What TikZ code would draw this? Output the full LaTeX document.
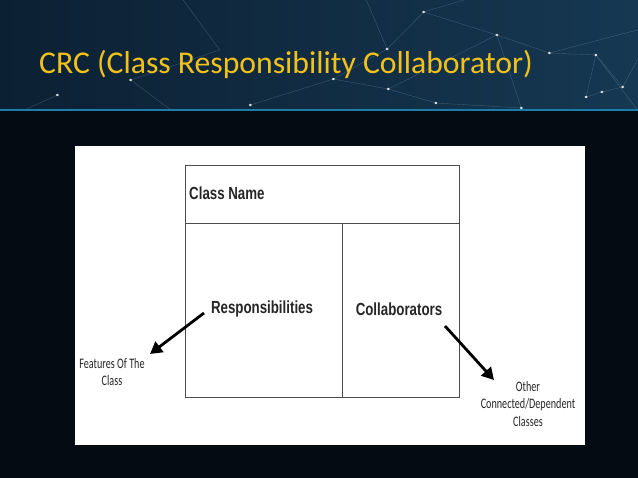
\documentclass[tikz,border=0pt]{standalone}
\usepackage{fontspec}
\setmainfont{Carlito}
\newfontfamily\boxfont[FakeStretch=0.76]{Liberation Sans}
\newfontfamily\notefont[FakeStretch=0.7]{Carlito}
\usetikzlibrary{arrows.meta}

\definecolor{slidebg}{HTML}{040B12}
\definecolor{bandleft}{HTML}{0C2033}
\definecolor{bandright}{HTML}{163852}
\definecolor{bandline}{HTML}{1E7CA8}
\definecolor{titleyellow}{HTML}{F2C21B}
\definecolor{netline}{HTML}{7FA6C4}

\begin{document}
\begin{tikzpicture}[x=1pt, y=-1pt,
        crcline/.style={draw=black!70, line width=1pt},
        boxlabel/.style={font=\boxfont\bfseries\fontsize{17.5}{19}\selectfont, text=black!85, inner sep=0pt},
        notelabel/.style={font=\notefont\fontsize{14.5}{17.8}\selectfont, align=center, text=black!85, inner sep=0pt},
        pointer/.style={line width=2.8pt, -{Triangle[length=12pt, width=13pt]}}]
        \useasboundingbox (0,0) rectangle (638,478);
        \fill[slidebg] (0,0) rectangle (638,478);
        \shade[left color=bandleft, right color=bandright] (0,0) rectangle (638,110);
        \begin{scope}[xscale=1.221]
        \foreach \xa/\ya/\xb/\yb in {347/12/407/35, 407/35/450/53, 317/49/347/12, 317/49/273/79, 273/79/318/89,
                318/89/357/103, 357/103/427/108, 318/89/407/35, 450/53/488/55, 488/55/480/97,
                488/55/510/87, 480/97/493/92, 493/92/510/87, 107/80/140/110, 47/95/20/110,
                205/105/273/79, 407/35/427/108, 317/49/300/0, 347/12/380/0, 510/87/522/60,
                450/53/522/30, 488/55/522/110, 150/0/180/50, 180/50/107/80} {
            \draw[netline, opacity=0.35, line width=0.4pt] (\xa,\ya) -- (\xb,\yb);
        }
        \foreach \px/\py in {347/12, 407/35, 317/49, 273/79, 318/89, 450/53, 488/55, 480/97,
                493/92, 510/87, 47/95, 107/80, 205/105, 357/103, 427/108} {
            \fill[white, opacity=0.85] (\px,\py) circle (1.3);
        }
        \end{scope}
        \draw[bandline, line width=1.5pt] (0,110) -- (638,110);
        \node[anchor=base west, inner sep=0pt, text=titleyellow, font=\fontsize{31.7}{36}\selectfont] (title) at (39,74)
            {CRC (Class Responsibility Collaborator)};

        \fill[white] (75,146) rectangle (585,445);
        \node[crcline, minimum width=274pt, minimum height=58pt, anchor=north west] (header) at (185,165) {};
        \node[crcline, minimum width=157pt, minimum height=174pt, anchor=north west] (resp) at (185,223) {};
        \node[crcline, minimum width=117pt, minimum height=174pt, anchor=north west] (collab) at (342,223) {};
        \node[boxlabel, anchor=west] (classname) at (189,193) {Class Name};
        \node[boxlabel] (resplabel) at (262,309) {Responsibilities};
        \node[boxlabel] (collablabel) at (399,309) {Collaborators};

        \node[notelabel] (features) at (112,372) {Features Of The\\Class};
        \node[notelabel] (others) at (528,404) {Other\\Connected/Dependent\\Classes};
        \coordinate (respstart) at (204,313);
        \coordinate (resptip) at (150,354);
        \coordinate (collabstart) at (445,326);
        \coordinate (collabtip) at (494,380);
        \draw[pointer] (respstart) -- (resptip);
        \draw[pointer] (collabstart) -- (collabtip);
    \end{tikzpicture}
\end{document}
